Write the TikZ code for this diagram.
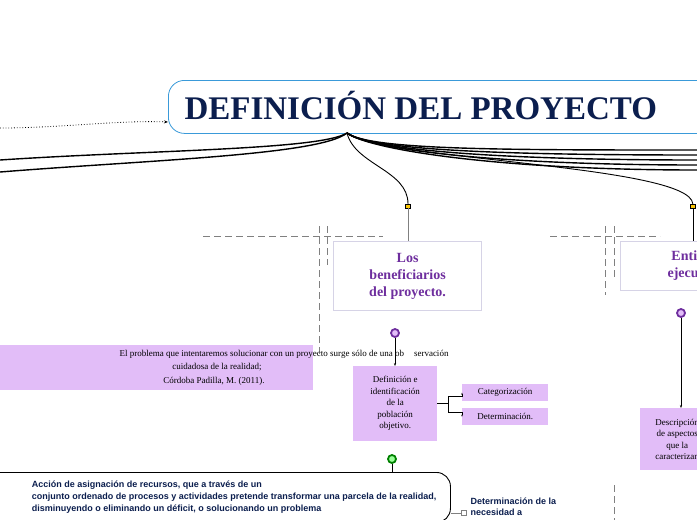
\documentclass[tikz,border=0pt]{standalone}
\usepackage{fontspec}
\setmainfont{Liberation Serif}
\newfontfamily\bodysans{Liberation Sans}
\usetikzlibrary{arrows.meta}
\definecolor{navy}{HTML}{0B1E4E}
\definecolor{lav}{HTML}{E2BDF8}
\definecolor{purp}{HTML}{6E2E9E}
\definecolor{boxline}{HTML}{D6D3E6}
\definecolor{titleblue}{HTML}{3A9AD9}
\tikzset{
 x=1pt,y=-1pt,
 lavbox/.style={fill=lav,inner sep=2pt,font=\fontsize{9}{11.5}\selectfont,align=center},
 topicbox/.style={draw=boxline,line width=1.2pt,fill=white,text=purp,font=\bfseries\fontsize{14}{17}\selectfont,align=center},
 dashln/.style={draw=gray,dash pattern=on 7pt off 4pt,line width=0.8pt},
 mainln/.style={line width=1.4pt},
 pcircle/.style={circle,draw=purp,fill=lav,line width=1.8pt,minimum size=8pt,inner sep=0pt},
 gcircle/.style={circle,draw=green!50!black,fill=green!40,line width=1.8pt,minimum size=8pt,inner sep=0pt},
 icon/.style={draw=black,fill=yellow!60!orange,minimum width=5pt,minimum height=4pt,inner sep=0pt}
}
\begin{document}
\begin{tikzpicture}
\useasboundingbox (0,0) rectangle (697,520);
\clip (0,0) rectangle (697,520);
% title
\node[draw=titleblue,rounded corners=16pt,fill=white,minimum width=545pt,minimum height=53pt,anchor=north west,line width=0.8pt] (root) at (168,80) {};
\node[text=navy,font=\bfseries\fontsize{33}{36}\selectfont,anchor=west] (title) at (181,106) {DEFINICIÓN DEL PROYECTO};
\coordinate (rb) at (347,133);
\coordinate (la) at (0,160);
\coordinate (lb) at (0,172);
\draw[dotted,line width=0.8pt,-{Stealth[length=4pt]}] (0,128) .. controls (60,128) and (120,120) .. (root.west |- 0,122);
\draw[mainln] (rb) .. controls (320,150) and (150,150) .. (la);
\draw[mainln] (rb) .. controls (320,155) and (150,160) .. (lb);
\foreach \yy in {150,155,160,165,170}{
 \coordinate (r\yy) at (697,\yy);
 \draw[mainln] (rb) .. controls (370,150) and (500,\yy) .. (r\yy);}
% connectors to topics
\node[icon] (ic1) at (408,206) {};
\node[icon] (ic2) at (693,206) {};
\draw[line width=0.9pt] (rb) .. controls (355,165) and (408,170) .. (ic1);
\draw[line width=0.9pt] (rb) .. controls (380,160) and (690,165) .. (ic2);
% topic boxes
\node[topicbox,minimum width=148pt,minimum height=69pt,anchor=north west] (ben) at (333,241) {Los\\beneficiarios\\del proyecto.};
\node[topicbox,minimum width=150pt,minimum height=49pt,anchor=north west] (ent) at (620,241) {Entidad\\ejecutora};
\draw[gray,line width=0.9pt] (ic1) -- (ben.north -| ic1);
\draw[line width=0.9pt] (ic2) -- (ent.north -| ic2);
% dashed guides
\draw[dashln] (203,236) -- (383,236);
\draw[dashln] (319,226) -- (319,356);
\draw[dashln] (327,226) -- (327,265);
\draw[dashln] (550,236) -- (660,236);
\draw[dashln] (605,226) -- (605,295);
\draw[dashln] (614,226) -- (614,280);
\draw[dashln] (614,485) -- (614,520);
% quote
\node[fill=lav,minimum width=313pt,minimum height=45pt,anchor=north west,inner sep=0pt] (quote) at (0,345) {};
\node[font=\fontsize{9}{11}\selectfont,anchor=east] (q1) at (452,354) {El problema que intentaremos solucionar con un proyecto surge sólo de una ob\kern10pt servación};
\node[font=\fontsize{9}{11}\selectfont] (q2) at (217,367) {cuidadosa de la realidad;};
\node[font=\fontsize{9}{11}\selectfont] (q3) at (214,381) {Córdoba Padilla, M. (2011).};
% beneficiarios subtree
\node[pcircle] (c1) at (395,333) {};
\node[lavbox,minimum width=84pt,minimum height=75pt,anchor=north west] (def) at (353,366) {Definición e\\identificación\\de la\\población\\objetivo.};
\draw[-{Stealth[length=3pt]},line width=0.6pt] (c1) -- (def.north -| c1);
\node[lavbox,minimum width=86pt,minimum height=17pt,anchor=north west] (cat) at (462,384) {Categorización};
\node[lavbox,minimum width=86pt,minimum height=17pt,anchor=north west] (det) at (462,408) {Determinación.};
\coordinate (fork) at (448,403);
\draw[line width=0.5pt] (def.east |- fork) -- (fork);
\draw[-{Stealth[length=2pt]},line width=0.5pt] (fork) |- ([yshift=-4pt]cat.west) -- (cat.west);
\draw[-{Stealth[length=2pt]},line width=0.5pt] (fork) |- ([yshift=4pt]det.west) -- (det.west);
% entidad subtree
\node[pcircle] (c2) at (681,313) {};
\node[lavbox,minimum width=74pt,minimum height=62pt,anchor=north west] (desc) at (640,408) {Descripción\\de aspectos\\que la\\caracterizan};
\draw[-{Stealth[length=3pt]},line width=0.6pt] (c2) -- (desc.north -| c2);
% definition box
\node[gcircle] (c3) at (392,459) {};
\node[draw=black,rounded corners=14pt,line width=0.9pt,fill=white,minimum width=470pt,minimum height=50pt,anchor=north west] (defbox) at (-20,472) {};
\draw[line width=0.6pt] (c3) -- (c3 |- defbox.north);
\node[text=navy,font=\bodysans\bfseries\fontsize{9}{12}\selectfont,anchor=north east,align=left] (deftxt) at (440,477) {Acción de asignación de recursos, que a través de un\\conjunto ordenado de procesos y actividades pretende transformar una parcela de la realidad,\\disminuyendo o eliminando un déficit, o solucionando un problema};
\node[draw=gray,minimum size=5pt,inner sep=0pt] (sq) at (464,513) {};
\draw[gray,line width=0.5pt] (defbox.east |- sq) -- (sq);
\node[text=navy,font=\bodysans\bfseries\fontsize{9}{11}\selectfont,anchor=north west,align=left] (nec) at (467,494) {Determinación de la\\necesidad a};
\end{tikzpicture}
\end{document}
